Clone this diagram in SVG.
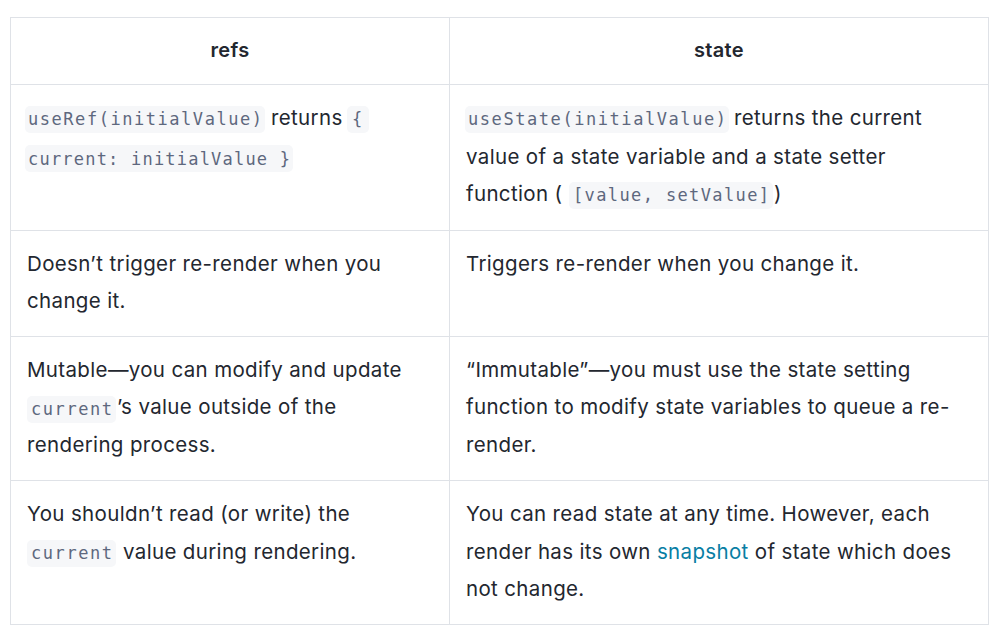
<svg xmlns="http://www.w3.org/2000/svg" width="1006" height="643" viewBox="0 0 1006 643">
<style>
.t{font-family:Inter,"Noto Sans","Liberation Sans",sans-serif;font-size:20.5px;letter-spacing:0.35px;fill:#23272f}
.h{font-family:Inter,"Noto Sans","Liberation Sans",sans-serif;font-size:20px;font-weight:600;letter-spacing:0.3px;fill:#23272f;text-anchor:middle}
.c{font-family:"DejaVu Sans Mono","Liberation Mono",monospace;font-size:17px;fill:#5e687e}
.cb{fill:#f6f7f9}
.l{stroke:#dfe2e7;stroke-width:1;fill:none}
.a{fill:#087ea4}
</style>
<rect x="0" y="0" width="1006" height="643" fill="#fff"/>
<g id="grid">
<rect class="l" x="10.5" y="17.5" width="978" height="607"/>
<line class="l" x1="449.5" y1="17" x2="449.5" y2="624"/>
<line class="l" x1="10" y1="84.5" x2="988" y2="84.5"/>
<line class="l" x1="10" y1="230.5" x2="988" y2="230.5"/>
<line class="l" x1="10" y1="336.5" x2="988" y2="336.5"/>
<line class="l" x1="10" y1="480.5" x2="988" y2="480.5"/>
</g>
<g id="header">
<text class="h" x="230" y="57">refs</text>
<text class="h" x="719" y="57">state</text>
</g>
<g id="row1">
<rect class="cb" x="25" y="106" width="240" height="27" rx="5"/>
<text class="c" x="28" y="125" textLength="234">useRef(initialValue)</text>
<text class="t" x="271" y="125">returns</text>
<rect class="cb" x="347" y="106" width="22" height="27" rx="5"/>
<text class="c" x="352" y="125">{</text>
<rect class="cb" x="25" y="145" width="268" height="27" rx="5"/>
<text class="c" x="28" y="165" textLength="262">current: initialValue }</text>
<rect class="cb" x="465" y="106" width="264" height="27" rx="5"/>
<text class="c" x="468" y="125" textLength="258">useState(initialValue)</text>
<text class="t" x="734" y="125">returns the current</text>
<text class="t" x="466" y="164">value of a state variable and a state setter</text>
<text class="t" x="466" y="201">function (</text>
<rect class="cb" x="569" y="182" width="204" height="27" rx="5"/>
<text class="c" x="573" y="201" textLength="196">[value, setValue]</text>
<text class="t" x="774" y="201">)</text>
</g>
<g id="row2">
<text class="t" x="27" y="271">Doesn’t trigger re-render when you</text>
<text class="t" x="27" y="308">change it.</text>
<text class="t" x="466" y="271">Triggers re-render when you change it.</text>
</g>
<g id="row3">
<text class="t" x="27" y="377">Mutable—you can modify and update</text>
<rect class="cb" x="27" y="396" width="89" height="27" rx="5"/>
<text class="c" x="31" y="415" textLength="81">current</text>
<text class="t" x="117" y="414">’s value outside of the</text>
<text class="t" x="27" y="452">rendering process.</text>
<text class="t" x="466" y="377">“Immutable”—you must use the state setting</text>
<text class="t" x="466" y="414">function to modify state variables to queue a re-</text>
<text class="t" x="466" y="452">render.</text>
</g>
<g id="row4">
<text class="t" x="27" y="521">You shouldn’t read (or write) the</text>
<rect class="cb" x="27" y="540" width="89" height="27" rx="5"/>
<text class="c" x="31" y="559" textLength="81">current</text>
<text class="t" x="123" y="559">value during rendering.</text>
<text class="t" x="466" y="521">You can read state at any time. However, each</text>
<text class="t" x="466" y="559">render has its own <tspan class="a">snapshot</tspan> of state which does</text>
<text class="t" x="466" y="596">not change.</text>
</g>
</svg>
